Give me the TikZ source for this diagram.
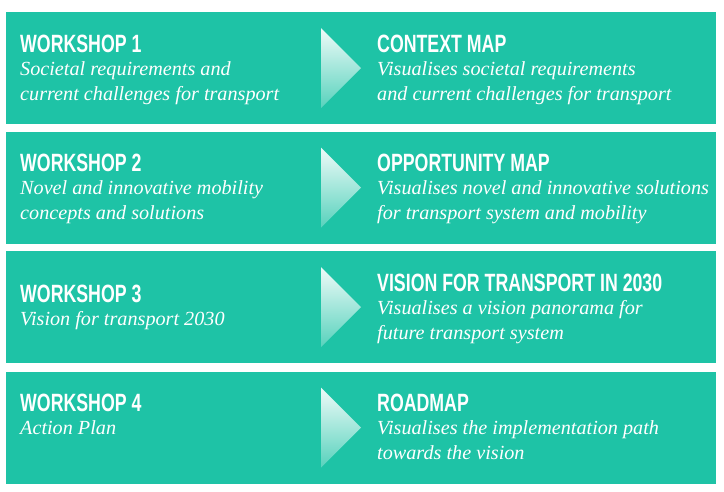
\documentclass[tikz,border=0pt]{standalone}
\usepackage{fontspec}
\setmainfont{Liberation Serif}
\newfontfamily\headfont[FakeStretch=0.71]{Liberation Sans}
\newfontfamily\descfont[FakeStretch=1.01]{Liberation Serif}
\definecolor{bandgreen}{HTML}{1EC3A6}

\begin{document}
\begin{tikzpicture}[
  x=1pt, y=-1pt,
  band/.style={rectangle,fill=bandgreen,draw=none,minimum width=710pt,
               minimum height=112pt,inner sep=0pt},
  head/.style={text=white,anchor=base west,inner sep=0pt,
               font=\headfont\bfseries\fontsize{25}{25}\selectfont},
  % base of a two-line text is its last line
  desc/.style={text=white,anchor=base west,align=left,inner sep=0pt,
               font=\descfont\itshape\fontsize{20}{25}\selectfont},
  pointer/.style={top color=white!93!bandgreen,bottom color=bandgreen!75!white}
  ]
  \useasboundingbox (0,0) rectangle (724,491);

  % the four bands
  \node [band] (b1) at (361,68) {};
  \node [band] (b2) at (361,187.5) {};
  \node [band] (b3) at (361,307) {};
  \node [band] (b4) at (361,427.5) {};

  % arrows between the columns
  \shade [pointer] (321,28) -- (361,68) -- (321,108) -- cycle;
  \shade [pointer] (321,147.5) -- (361,187.5) -- (321,227.5) -- cycle;
  \shade [pointer] (321,267) -- (361,307) -- (321,347) -- cycle;
  \shade [pointer] (321,387.5) -- (361,427.5) -- (321,467.5) -- cycle;

  % workshops
  \node [head] (w1) at (20,52) {WORKSHOP 1};
  \node [desc] (w1d) at (20,100) {Societal requirements and\\current challenges for transport};
  \node [head] (w2) at (20,171.5) {WORKSHOP 2};
  \node [desc] (w2d) at (20,219.5) {Novel and innovative mobility\\concepts and solutions};
  \node [head] (w3) at (20,302) {WORKSHOP 3};
  \node [desc] (w3d) at (20,325) {Vision for transport 2030};
  \node [head] (w4) at (20,411.5) {WORKSHOP 4};
  \node [desc] (w4d) at (20,434.5) {Action Plan};

  % results
  \node [head] (m1) at (377,52) {CONTEXT MAP};
  \node [desc] (m1d) at (377,100) {Visualises societal requirements\\and current challenges for transport};
  \node [head] (m2) at (377,171.5) {OPPORTUNITY MAP};
  \node [desc] (m2d) at (377,219.5) {Visualises novel and innovative solutions\\for transport system and mobility};
  \node [head] (m3) at (377,291) {VISION FOR TRANSPORT IN 2030};
  \node [desc] (m3d) at (377,339) {Visualises a vision panorama for\\future transport system};
  \node [head] (m4) at (377,411.5) {ROADMAP};
  \node [desc] (m4d) at (377,459.5) {Visualises the implementation path\\towards the vision};
\end{tikzpicture}
\end{document}
